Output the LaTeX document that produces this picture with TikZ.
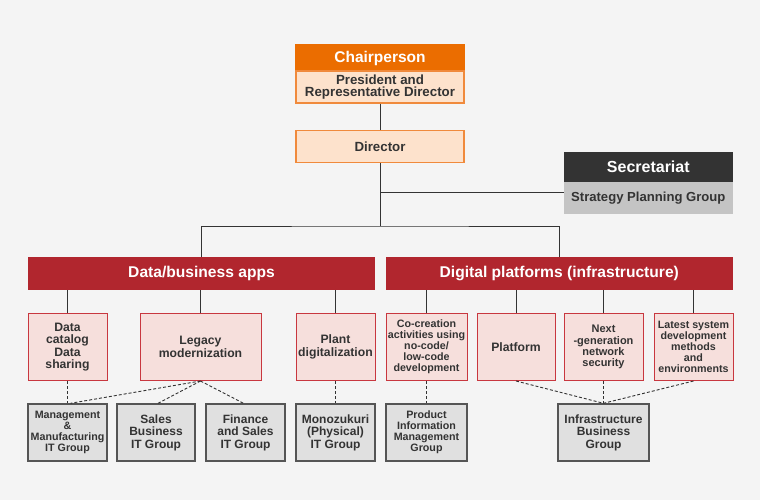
\documentclass[tikz,border=0pt]{standalone}
\usepackage{fontspec}
\setmainfont{Liberation Sans}
\usetikzlibrary{calc}
\definecolor{bgcol}{HTML}{F4F4F4}
\definecolor{txtcol}{HTML}{333333}
\definecolor{chaircol}{HTML}{EB6D00}
\definecolor{paleorange}{HTML}{FDE2CC}
\definecolor{orangeline}{HTML}{F08A3C}
\definecolor{barcol}{HTML}{B1262E}
\definecolor{redline}{HTML}{C8373F}
\definecolor{redfill}{HTML}{F6DFDC}
\definecolor{grayfill}{HTML}{E0E0E0}
\definecolor{grayline}{HTML}{555555}
\definecolor{seccol}{HTML}{333333}
\definecolor{stratcol}{HTML}{C4C4C4}

\begin{document}
\begin{tikzpicture}[x=1pt,y=-1pt,
  every node/.style={inner sep=0pt,align=center,text=txtcol},
  topbox/.style={fill=paleorange,draw=orangeline,line width=1.2pt,minimum width=168pt,
    font=\bfseries\fontsize{13.3}{12.2}\selectfont},
  barbox/.style={fill=barcol,minimum height=33.5pt,minimum width=#1,text=white,
    font=\bfseries\fontsize{15.6}{16}\selectfont},
  redbox/.style={fill=redfill,draw=redline,line width=1pt,minimum height=67pt,minimum width=#1,
    font=\bfseries\fontsize{12.2}{12.3}\selectfont},
  graybox/.style={fill=grayfill,draw=grayline,line width=1.4pt,minimum height=57pt,minimum width=#1,
    font=\bfseries\fontsize{12}{12.5}\selectfont},
  small/.style={font=\bfseries\fontsize{10.7}{10.9}\selectfont},
  link/.style={draw=txtcol,line width=1pt},
  dashlink/.style={draw=txtcol,line width=0.9pt,dash pattern=on 3pt off 2pt}]
\fill[bgcol] (0,0) rectangle (760,500);

\node[fill=chaircol,draw=chaircol,line width=1.2pt,minimum width=168pt,minimum height=26pt,
  text=white,font=\bfseries\fontsize{15.5}{16}\selectfont] (chair) at (380,58) {Chairperson};
\node[topbox,minimum height=32pt] (pres) at (380,87) {President and\\Representative Director};
\node[topbox,minimum height=32pt] (dir) at (380,146.5) {Director};

\node[fill=seccol,minimum width=168.5pt,minimum height=30pt,text=white,
  font=\bfseries\fontsize{16}{16}\selectfont] (sec) at (648.3,167) {Secretariat};
\node[fill=stratcol,minimum width=168.5pt,minimum height=32pt,
  font=\bfseries\fontsize{13.1}{14}\selectfont] (strat) at (648.3,198) {Strategy Planning Group};

\node[barbox=347pt] (dapps) at (201.5,273.5) {Data/business apps};
\node[barbox=346.7pt] (dplat) at (559.3,273.5) {Digital platforms (infrastructure)};

\node[redbox=79pt] (data) at (67.5,347) {Data\\catalog\\Data\\sharing};
\node[redbox=121pt] (legacy) at (200.5,347) {Legacy\\modernization};
\node[redbox=79pt] (plant) at (335.5,347) {Plant\\digitalization};
\node[redbox=81pt,small] (cocr) at (426.5,347) {Co-creation\\activities using\\no-code/\\low-code\\development};
\node[redbox=78pt] (plat) at (516,347) {Platform};
\node[redbox=79pt,font=\bfseries\fontsize{11}{11.2}\selectfont] (nextg) at (603.5,347) {Next\\-generation\\network\\security};
\node[redbox=79pt,small] (latest) at (693.5,347) {Latest system\\development\\methods\\and\\environments};

\node[graybox=79pt,small] (mgmt) at (67.5,432.5) {Management\\\&\\Manufacturing\\IT Group};
\node[graybox=78pt] (sales) at (156,432.5) {Sales\\Business\\IT Group};
\node[graybox=79pt] (fin) at (245.5,432.5) {Finance\\and Sales\\IT Group};
\node[graybox=79pt] (mono) at (335.5,432.5) {Monozukuri\\(Physical)\\IT Group};
\node[graybox=81pt,small] (prod) at (426.5,432.5) {Product\\Information\\Management\\Group};
\node[graybox=91pt] (infra) at (603.5,432.5) {Infrastructure\\Business\\Group};

\coordinate (split) at (380,226);
\coordinate (secjoin) at (380,192);
\draw[link] (pres.south) -- (dir.north);
\draw[link] (dir.south) -- (split);
\draw[link] (secjoin) -- (secjoin -| strat.west);
\draw[link] (dapps.north) |- (split) -| (dplat.north);

\foreach \n in {data,legacy,plant}
  \draw[link] (\n.north) -- (\n.north |- dapps.south);
\foreach \n in {cocr,plat,nextg,latest}
  \draw[link] (\n.north) -- (\n.north |- dplat.south);

\draw[dashlink] (data.south) -- (mgmt.north);
\draw[dashlink] (legacy.south) -- ([xshift=3pt]mgmt.north);
\draw[dashlink] (legacy.south) -- ([xshift=2pt]sales.north);
\draw[dashlink] (legacy.south) -- ([xshift=-2pt]fin.north);
\draw[dashlink] (plant.south) -- (mono.north);
\draw[dashlink] (cocr.south) -- (prod.north);
\draw[dashlink] (plat.south) -- (infra.north);
\draw[dashlink] (nextg.south) -- (infra.north);
\draw[dashlink] (latest.south) -- (infra.north);
\end{tikzpicture}
\end{document}
